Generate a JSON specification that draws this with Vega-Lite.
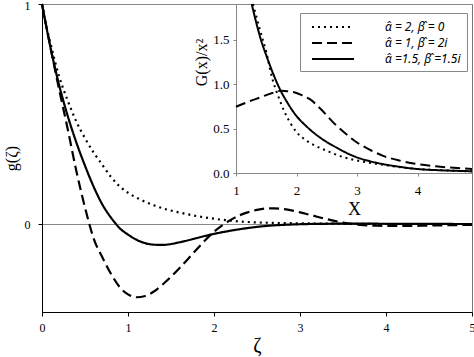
{
  "$schema": "https://vega.github.io/schema/vega-lite/v6.json",
  "width": 430,
  "height": 308,
  "autosize": {"type": "none"},
  "padding": {"left": 42, "top": 4, "right": 2, "bottom": 45},
  "config": {
    "font": "Liberation Serif",
    "view": {"stroke": "#777", "strokeWidth": 1},
    "axis": {
      "labelFont": "Liberation Serif",
      "titleFont": "Liberation Serif",
      "labelColor": "black",
      "titleColor": "black",
      "titleFontWeight": "normal",
      "grid": false
    },
    "line": {"color": "black", "interpolate": "monotone"}
  },
  "datasets": {
    "main": [
      {"case": "α̂ = 2, β̂ = 0", "z": 0, "g": 1},
      {"case": "α̂ = 2, β̂ = 0", "z": 0.05, "g": 0.9},
      {"case": "α̂ = 2, β̂ = 0", "z": 0.1, "g": 0.82},
      {"case": "α̂ = 2, β̂ = 0", "z": 0.15, "g": 0.74},
      {"case": "α̂ = 2, β̂ = 0", "z": 0.2, "g": 0.67},
      {"case": "α̂ = 2, β̂ = 0", "z": 0.3, "g": 0.56},
      {"case": "α̂ = 2, β̂ = 0", "z": 0.4, "g": 0.465},
      {"case": "α̂ = 2, β̂ = 0", "z": 0.5, "g": 0.39},
      {"case": "α̂ = 2, β̂ = 0", "z": 0.6, "g": 0.325},
      {"case": "α̂ = 2, β̂ = 0", "z": 0.7, "g": 0.27},
      {"case": "α̂ = 2, β̂ = 0", "z": 0.8, "g": 0.215},
      {"case": "α̂ = 2, β̂ = 0", "z": 0.9, "g": 0.172},
      {"case": "α̂ = 2, β̂ = 0", "z": 1.0, "g": 0.142},
      {"case": "α̂ = 2, β̂ = 0", "z": 1.15, "g": 0.11},
      {"case": "α̂ = 2, β̂ = 0", "z": 1.3, "g": 0.085},
      {"case": "α̂ = 2, β̂ = 0", "z": 1.45, "g": 0.066},
      {"case": "α̂ = 2, β̂ = 0", "z": 1.6, "g": 0.052},
      {"case": "α̂ = 2, β̂ = 0", "z": 1.8, "g": 0.036},
      {"case": "α̂ = 2, β̂ = 0", "z": 2.0, "g": 0.024},
      {"case": "α̂ = 2, β̂ = 0", "z": 2.2, "g": 0.015},
      {"case": "α̂ = 2, β̂ = 0", "z": 2.4, "g": 0.009},
      {"case": "α̂ = 2, β̂ = 0", "z": 2.7, "g": 0.005},
      {"case": "α̂ = 2, β̂ = 0", "z": 3.0, "g": 0.003},
      {"case": "α̂ = 2, β̂ = 0", "z": 3.5, "g": 0.001},
      {"case": "α̂ = 2, β̂ = 0", "z": 4.0, "g": 0},
      {"case": "α̂ = 2, β̂ = 0", "z": 5.0, "g": 0},

      {"case": "α̂ = 1, β̂ = 2i", "z": 0, "g": 1},
      {"case": "α̂ = 1, β̂ = 2i", "z": 0.1, "g": 0.8},
      {"case": "α̂ = 1, β̂ = 2i", "z": 0.2, "g": 0.61},
      {"case": "α̂ = 1, β̂ = 2i", "z": 0.3, "g": 0.43},
      {"case": "α̂ = 1, β̂ = 2i", "z": 0.4, "g": 0.24},
      {"case": "α̂ = 1, β̂ = 2i", "z": 0.5, "g": 0.075},
      {"case": "α̂ = 1, β̂ = 2i", "z": 0.55, "g": 0},
      {"case": "α̂ = 1, β̂ = 2i", "z": 0.6, "g": -0.065},
      {"case": "α̂ = 1, β̂ = 2i", "z": 0.7, "g": -0.15},
      {"case": "α̂ = 1, β̂ = 2i", "z": 0.8, "g": -0.225},
      {"case": "α̂ = 1, β̂ = 2i", "z": 0.9, "g": -0.285},
      {"case": "α̂ = 1, β̂ = 2i", "z": 1.0, "g": -0.32},
      {"case": "α̂ = 1, β̂ = 2i", "z": 1.1, "g": -0.333},
      {"case": "α̂ = 1, β̂ = 2i", "z": 1.2, "g": -0.327},
      {"case": "α̂ = 1, β̂ = 2i", "z": 1.3, "g": -0.307},
      {"case": "α̂ = 1, β̂ = 2i", "z": 1.4, "g": -0.276},
      {"case": "α̂ = 1, β̂ = 2i", "z": 1.5, "g": -0.24},
      {"case": "α̂ = 1, β̂ = 2i", "z": 1.6, "g": -0.2},
      {"case": "α̂ = 1, β̂ = 2i", "z": 1.7, "g": -0.158},
      {"case": "α̂ = 1, β̂ = 2i", "z": 1.8, "g": -0.115},
      {"case": "α̂ = 1, β̂ = 2i", "z": 1.9, "g": -0.073},
      {"case": "α̂ = 1, β̂ = 2i", "z": 2.0, "g": -0.035},
      {"case": "α̂ = 1, β̂ = 2i", "z": 2.1, "g": -0.005},
      {"case": "α̂ = 1, β̂ = 2i", "z": 2.2, "g": 0.02},
      {"case": "α̂ = 1, β̂ = 2i", "z": 2.3, "g": 0.04},
      {"case": "α̂ = 1, β̂ = 2i", "z": 2.4, "g": 0.054},
      {"case": "α̂ = 1, β̂ = 2i", "z": 2.5, "g": 0.064},
      {"case": "α̂ = 1, β̂ = 2i", "z": 2.6, "g": 0.07},
      {"case": "α̂ = 1, β̂ = 2i", "z": 2.7, "g": 0.071},
      {"case": "α̂ = 1, β̂ = 2i", "z": 2.8, "g": 0.068},
      {"case": "α̂ = 1, β̂ = 2i", "z": 2.9, "g": 0.062},
      {"case": "α̂ = 1, β̂ = 2i", "z": 3.0, "g": 0.053},
      {"case": "α̂ = 1, β̂ = 2i", "z": 3.1, "g": 0.043},
      {"case": "α̂ = 1, β̂ = 2i", "z": 3.2, "g": 0.033},
      {"case": "α̂ = 1, β̂ = 2i", "z": 3.3, "g": 0.023},
      {"case": "α̂ = 1, β̂ = 2i", "z": 3.4, "g": 0.014},
      {"case": "α̂ = 1, β̂ = 2i", "z": 3.5, "g": 0.006},
      {"case": "α̂ = 1, β̂ = 2i", "z": 3.6, "g": 0},
      {"case": "α̂ = 1, β̂ = 2i", "z": 3.7, "g": -0.004},
      {"case": "α̂ = 1, β̂ = 2i", "z": 3.9, "g": -0.008},
      {"case": "α̂ = 1, β̂ = 2i", "z": 4.2, "g": -0.009},
      {"case": "α̂ = 1, β̂ = 2i", "z": 4.5, "g": -0.007},
      {"case": "α̂ = 1, β̂ = 2i", "z": 5.0, "g": -0.004},

      {"case": "α̂ =1.5, β̂ =1.5i", "z": 0, "g": 1},
      {"case": "α̂ =1.5, β̂ =1.5i", "z": 0.1, "g": 0.8},
      {"case": "α̂ =1.5, β̂ =1.5i", "z": 0.2, "g": 0.63},
      {"case": "α̂ =1.5, β̂ =1.5i", "z": 0.3, "g": 0.49},
      {"case": "α̂ =1.5, β̂ =1.5i", "z": 0.4, "g": 0.37},
      {"case": "α̂ =1.5, β̂ =1.5i", "z": 0.5, "g": 0.265},
      {"case": "α̂ =1.5, β̂ =1.5i", "z": 0.6, "g": 0.17},
      {"case": "α̂ =1.5, β̂ =1.5i", "z": 0.7, "g": 0.09},
      {"case": "α̂ =1.5, β̂ =1.5i", "z": 0.8, "g": 0.03},
      {"case": "α̂ =1.5, β̂ =1.5i", "z": 0.85, "g": 0.005},
      {"case": "α̂ =1.5, β̂ =1.5i", "z": 0.9, "g": -0.018},
      {"case": "α̂ =1.5, β̂ =1.5i", "z": 1.0, "g": -0.048},
      {"case": "α̂ =1.5, β̂ =1.5i", "z": 1.1, "g": -0.072},
      {"case": "α̂ =1.5, β̂ =1.5i", "z": 1.2, "g": -0.087},
      {"case": "α̂ =1.5, β̂ =1.5i", "z": 1.3, "g": -0.094},
      {"case": "α̂ =1.5, β̂ =1.5i", "z": 1.4, "g": -0.095},
      {"case": "α̂ =1.5, β̂ =1.5i", "z": 1.5, "g": -0.091},
      {"case": "α̂ =1.5, β̂ =1.5i", "z": 1.6, "g": -0.083},
      {"case": "α̂ =1.5, β̂ =1.5i", "z": 1.7, "g": -0.074},
      {"case": "α̂ =1.5, β̂ =1.5i", "z": 1.8, "g": -0.064},
      {"case": "α̂ =1.5, β̂ =1.5i", "z": 1.9, "g": -0.054},
      {"case": "α̂ =1.5, β̂ =1.5i", "z": 2.0, "g": -0.045},
      {"case": "α̂ =1.5, β̂ =1.5i", "z": 2.2, "g": -0.03},
      {"case": "α̂ =1.5, β̂ =1.5i", "z": 2.4, "g": -0.018},
      {"case": "α̂ =1.5, β̂ =1.5i", "z": 2.6, "g": -0.009},
      {"case": "α̂ =1.5, β̂ =1.5i", "z": 2.8, "g": -0.004},
      {"case": "α̂ =1.5, β̂ =1.5i", "z": 3.0, "g": -0.001},
      {"case": "α̂ =1.5, β̂ =1.5i", "z": 3.3, "g": 0.001},
      {"case": "α̂ =1.5, β̂ =1.5i", "z": 3.6, "g": 0.002},
      {"case": "α̂ =1.5, β̂ =1.5i", "z": 4.0, "g": 0.001},
      {"case": "α̂ =1.5, β̂ =1.5i", "z": 5.0, "g": 0}
    ],
    "inset": [
      {"case": "α̂ = 2, β̂ = 0", "X": 1.28, "G": 1.9},
      {"case": "α̂ = 2, β̂ = 0", "X": 1.4, "G": 1.6},
      {"case": "α̂ = 2, β̂ = 0", "X": 1.5, "G": 1.36},
      {"case": "α̂ = 2, β̂ = 0", "X": 1.6, "G": 1.06},
      {"case": "α̂ = 2, β̂ = 0", "X": 1.7, "G": 0.86},
      {"case": "α̂ = 2, β̂ = 0", "X": 1.8, "G": 0.69},
      {"case": "α̂ = 2, β̂ = 0", "X": 1.9, "G": 0.56},
      {"case": "α̂ = 2, β̂ = 0", "X": 2.0, "G": 0.46},
      {"case": "α̂ = 2, β̂ = 0", "X": 2.15, "G": 0.37},
      {"case": "α̂ = 2, β̂ = 0", "X": 2.33, "G": 0.3},
      {"case": "α̂ = 2, β̂ = 0", "X": 2.5, "G": 0.25},
      {"case": "α̂ = 2, β̂ = 0", "X": 2.72, "G": 0.19},
      {"case": "α̂ = 2, β̂ = 0", "X": 2.9, "G": 0.155},
      {"case": "α̂ = 2, β̂ = 0", "X": 3.16, "G": 0.12},
      {"case": "α̂ = 2, β̂ = 0", "X": 3.4, "G": 0.095},
      {"case": "α̂ = 2, β̂ = 0", "X": 3.71, "G": 0.065},
      {"case": "α̂ = 2, β̂ = 0", "X": 4.0, "G": 0.045},
      {"case": "α̂ = 2, β̂ = 0", "X": 4.4, "G": 0.03},
      {"case": "α̂ = 2, β̂ = 0", "X": 4.9, "G": 0.018},

      {"case": "α̂ = 1, β̂ = 2i", "X": 1.0, "G": 0.745},
      {"case": "α̂ = 1, β̂ = 2i", "X": 1.2, "G": 0.8},
      {"case": "α̂ = 1, β̂ = 2i", "X": 1.4, "G": 0.85},
      {"case": "α̂ = 1, β̂ = 2i", "X": 1.6, "G": 0.9},
      {"case": "α̂ = 1, β̂ = 2i", "X": 1.75, "G": 0.925},
      {"case": "α̂ = 1, β̂ = 2i", "X": 1.85, "G": 0.92},
      {"case": "α̂ = 1, β̂ = 2i", "X": 2.0, "G": 0.9},
      {"case": "α̂ = 1, β̂ = 2i", "X": 2.1, "G": 0.87},
      {"case": "α̂ = 1, β̂ = 2i", "X": 2.22, "G": 0.83},
      {"case": "α̂ = 1, β̂ = 2i", "X": 2.4, "G": 0.72},
      {"case": "α̂ = 1, β̂ = 2i", "X": 2.61, "G": 0.566},
      {"case": "α̂ = 1, β̂ = 2i", "X": 2.8, "G": 0.45},
      {"case": "α̂ = 1, β̂ = 2i", "X": 3.0, "G": 0.343},
      {"case": "α̂ = 1, β̂ = 2i", "X": 3.2, "G": 0.265},
      {"case": "α̂ = 1, β̂ = 2i", "X": 3.43, "G": 0.193},
      {"case": "α̂ = 1, β̂ = 2i", "X": 3.7, "G": 0.14},
      {"case": "α̂ = 1, β̂ = 2i", "X": 3.99, "G": 0.1},
      {"case": "α̂ = 1, β̂ = 2i", "X": 4.3, "G": 0.075},
      {"case": "α̂ = 1, β̂ = 2i", "X": 4.6, "G": 0.058},
      {"case": "α̂ = 1, β̂ = 2i", "X": 4.9, "G": 0.045},

      {"case": "α̂ =1.5, β̂ =1.5i", "X": 1.26, "G": 1.9},
      {"case": "α̂ =1.5, β̂ =1.5i", "X": 1.35, "G": 1.65},
      {"case": "α̂ =1.5, β̂ =1.5i", "X": 1.42, "G": 1.48},
      {"case": "α̂ =1.5, β̂ =1.5i", "X": 1.507, "G": 1.31},
      {"case": "α̂ =1.5, β̂ =1.5i", "X": 1.6, "G": 1.14},
      {"case": "α̂ =1.5, β̂ =1.5i", "X": 1.727, "G": 0.94},
      {"case": "α̂ =1.5, β̂ =1.5i", "X": 1.85, "G": 0.79},
      {"case": "α̂ =1.5, β̂ =1.5i", "X": 2.0, "G": 0.64},
      {"case": "α̂ =1.5, β̂ =1.5i", "X": 2.14, "G": 0.54},
      {"case": "α̂ =1.5, β̂ =1.5i", "X": 2.28, "G": 0.455},
      {"case": "α̂ =1.5, β̂ =1.5i", "X": 2.45, "G": 0.37},
      {"case": "α̂ =1.5, β̂ =1.5i", "X": 2.61, "G": 0.305},
      {"case": "α̂ =1.5, β̂ =1.5i", "X": 2.8, "G": 0.235},
      {"case": "α̂ =1.5, β̂ =1.5i", "X": 3.0, "G": 0.175},
      {"case": "α̂ =1.5, β̂ =1.5i", "X": 3.2, "G": 0.135},
      {"case": "α̂ =1.5, β̂ =1.5i", "X": 3.43, "G": 0.1},
      {"case": "α̂ =1.5, β̂ =1.5i", "X": 3.7, "G": 0.07},
      {"case": "α̂ =1.5, β̂ =1.5i", "X": 3.99, "G": 0.045},
      {"case": "α̂ =1.5, β̂ =1.5i", "X": 4.4, "G": 0.03},
      {"case": "α̂ =1.5, β̂ =1.5i", "X": 4.9, "G": 0.02}
    ]
  },
  "layer": [
    {
      "data": {"name": "main"},
      "mark": {"type": "line", "strokeWidth": 2.2},
      "encoding": {
        "x": {
          "field": "z",
          "type": "quantitative",
          "scale": {"domain": [0, 5], "nice": false},
          "axis": {
            "title": "ζ",
            "titleFontSize": 20,
            "titlePadding": 2,
            "values": [0, 1, 2, 3, 4, 5],
            "format": "d",
            "labelFontSize": 12,
            "labelPadding": 6,
            "tickSize": 4,
            "tickColor": "black",
            "domainColor": "black",
            "labelFlush": false
          }
        },
        "y": {
          "field": "g",
          "type": "quantitative",
          "scale": {"domain": [-0.4, 1], "nice": false, "zero": false},
          "axis": {
            "title": "g(ζ)",
            "titleFontSize": 16,
            "titlePadding": 5,
            "values": [0, 1],
            "format": "d",
            "labelFontSize": 12,
            "labelPadding": 8,
            "labelFlush": true,
            "labelFlushOffset": 4,
            "tickSize": 4,
            "tickColor": "black",
            "domainColor": "black",
            "grid": true,
            "gridColor": "#888",
            "gridWidth": 1
          }
        },
        "strokeDash": {
          "field": "case",
          "type": "nominal",
          "scale": {
            "domain": ["α̂ = 2, β̂ = 0", "α̂ = 1, β̂ = 2i", "α̂ =1.5, β̂ =1.5i"],
            "range": [[2, 4], [10, 5], [1, 0]]
          },
          "legend": {
            "title": null,
            "orient": "none",
            "legendX": 258,
            "legendY": 9,
            "padding": 6,
            "strokeColor": "#888",
            "fillColor": "white",
            "symbolType": "M-3,0H3",
            "symbolSize": 196,
            "symbolStrokeWidth": 2,
            "symbolStrokeColor": "black",
            "symbolOffset": 19,
            "labelOffset": 44,
            "labelFont": "Noto Sans",
            "labelFontStyle": "italic",
            "labelFontSize": 12,
            "labelColor": "black",
            "labelLimit": 200,
            "rowPadding": 2
          }
        }
      }
    },
    {
      "data": {"name": "inset"},
      "mark": {"type": "line", "strokeWidth": 2},
      "encoding": {
        "x": {
          "field": "X",
          "type": "quantitative",
          "scale": {"domain": [1, 4.9], "range": [194, 430], "nice": false, "zero": false},
          "axis": {
            "orient": "bottom",
            "offset": -139,
            "title": "X",
            "titleFontSize": 18,
            "titlePadding": 3,
            "values": [1, 2, 3, 4],
            "format": "d",
            "labelFontSize": 13,
            "labelPadding": 8,
            "tickSize": 3,
            "tickColor": "#888",
            "domainColor": "#888",
            "labelFlush": false
          }
        },
        "y": {
          "field": "G",
          "type": "quantitative",
          "scale": {"domain": [0, 1.9], "range": [169, 0], "nice": false, "zero": false},
          "axis": {
            "orient": "left",
            "offset": -194,
            "title": "G(x)/x²",
            "titleFontSize": 16,
            "titlePadding": 3,
            "titleY": 58,
            "values": [0, 0.5, 1, 1.5],
            "format": ".1f",
            "labelFontSize": 13,
            "labelPadding": 4,
            "tickSize": 3,
            "tickColor": "#888",
            "domainColor": "#888",
            "labelFlush": false
          }
        },
        "strokeDash": {"field": "case", "type": "nominal"}
      }
    }
  ],
  "resolve": {"scale": {"x": "independent", "y": "independent"}}
}
